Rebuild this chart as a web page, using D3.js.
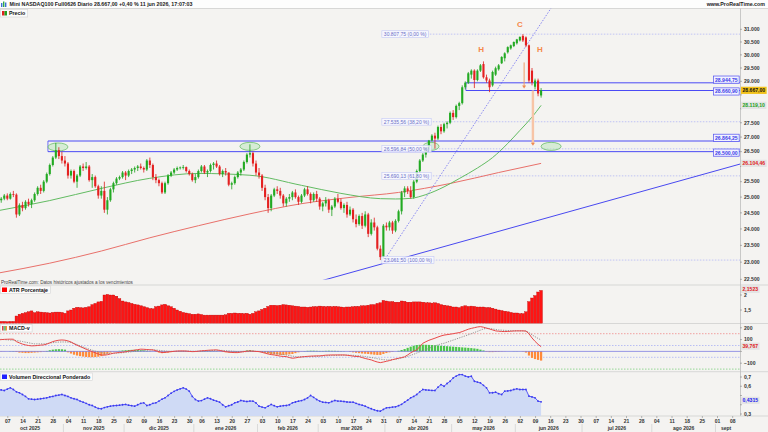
<!DOCTYPE html>
<html><head><meta charset="utf-8">
<script src="https://cdn.jsdelivr.net/npm/d3@7"></script>
<style>
html,body{margin:0;padding:0;background:#fff;}
svg{display:block;font-family:"Liberation Sans",Arial,sans-serif;}
</style></head><body><div id="chart"></div>
<script>
// --- datos ---
const firstDay = "2025-10-02";
const lastAxisDay = "2026-09-11";
const holidays = ["2026-01-01"];

// [apertura, máximo, mínimo, cierre] por sesión, desde 2025-10-02
const ohlc = [
[24850,24950,24750,24900],[24900,25000,24820,24950],[24950,25100,24900,25050],[25050,25120,24900,24950],[24950,25150,24920,25100],
[25100,25200,25000,25080],[25080,25120,24350,24450],[24450,24800,24400,24750],[24750,24850,24550,24650],[24650,24900,24600,24850],
[24850,24950,24700,24780],[24780,24950,24650,24900],[24900,25150,24850,25100],[25100,25350,25050,25300],[25300,25400,25100,25200],
[25200,25550,25150,25500],[25500,25800,25450,25750],[25750,26100,25700,26050],[26050,26350,26000,26300],[26300,26800,26250,26550],
[26550,26650,26250,26350],[26350,26500,26100,26200],[26200,26350,26000,26100],[26100,26150,25600,25700],[25700,25900,25600,25850],
[25850,25900,25450,25500],[25500,25750,25300,25700],[25700,26050,25650,26000],[26000,26100,25850,25950],[25950,26150,25900,26000],
[26000,26050,25500,25550],[25550,25750,25300,25650],[25650,25700,25300,25350],[25350,25400,24950,25050],[25050,25350,24950,25200],
[25200,25500,24500,24600],[24600,25000,24450,24900],[24900,25300,24850,25250],[25250,25500,25150,25450],[25450,25650,25400,25600],
[25600,25700,25550,25650],[25650,25850,25600,25800],[25800,25850,25550,25700],[25700,25900,25650,25850],[25850,25950,25750,25900],
[25900,26000,25800,25950],[25950,26050,25850,26000],[26000,26100,25900,25950],[25950,26000,25800,25900],[25900,26250,25850,26200],
[26200,26300,25950,26050],[26050,26100,25550,25650],[25650,25750,25450,25550],[25550,25600,25350,25450],[25450,25500,25100,25150],
[25150,25500,25100,25450],[25450,25750,25400,25700],[25700,25850,25650,25800],[25800,25950,25750,25900],[25900,26000,25850,25950],
[25950,26000,25900,25970],[25970,26050,25900,25980],[25980,26000,25800,25850],[25850,25900,25700,25750],[25750,25800,25500,25550],
[25550,25750,25450,25650],[25650,25900,25600,25850],[25850,26050,25800,26000],[26000,26050,25750,25800],[25800,25900,25650,25850],
[25850,26100,25800,26050],[26050,26150,25900,26100],[26100,26200,25950,26000],[26000,26050,25700,25750],[25750,25900,25650,25850],
[25850,25950,25700,25800],[25800,25800,25350,25400],[25400,25500,25250,25450],[25450,25700,25400,25650],[25650,25850,25600,25800],
[25800,25950,25700,25900],[25900,26200,25850,26150],[26150,26450,26100,26400],[26400,26750,26300,26450],[26450,26500,26000,26100],
[26100,26200,25700,25800],[25800,25950,25600,25700],[25700,25750,25200,25300],[25300,25400,24900,25000],[25000,25100,24500,24650],
[24650,25100,24550,25050],[25050,25300,25000,25250],[25250,25350,25100,25200],[25200,25300,24950,25050],[25050,25100,24700,24800],
[24800,25000,24700,24950],[24950,25100,24850,25000],[25000,25200,24900,25150],[25150,25250,24950,25000],[25000,25050,24750,24850],
[24850,25100,24800,25050],[25050,25300,25000,25250],[25250,25350,25050,25100],[25100,25150,24800,24900],[24900,25150,24850,25100],
[25100,25200,24850,24950],[24950,25000,24600,24700],[24700,24850,24550,24800],[24800,25000,24700,24900],[24900,24950,24500,24600],
[24600,24750,24400,24700],[24700,25000,24650,24950],[24950,25100,24800,24850],[24850,24950,24600,24650],[24650,24800,24500,24750],
[24750,24850,24350,24450],[24450,24700,24400,24600],[24600,24650,24200,24300],[24300,24450,24050,24150],[24150,24450,24100,24400],
[24400,24500,24000,24100],[24100,24550,24050,24450],[24450,24500,23750,23850],[23850,24300,23800,24200],[24200,24350,23950,24050],
[24050,24100,23350,23400],[23400,23500,23061.5,23150],[23150,24150,23100,24100],[24100,24200,23950,24050],[24050,24250,23950,24200],
[24200,24250,23850,23950],[23950,24300,23900,24250],[24250,24600,24200,24550],[24550,25200,24450,25150],[25150,25350,25000,25280],
[25280,25350,25100,25200],[25200,25350,24950,25000],[25000,25550,24950,25500],[25500,25900,25450,25850],[25850,26250,25800,26200],
[26200,26450,26150,26400],[26400,26650,26300,26600],[26600,26900,26550,26880],[26880,27100,26850,27050],[27050,27150,26600,26950],
[26950,27400,26900,27350],[27350,27450,27100,27200],[27200,27500,27150,27450],[27450,27550,27300,27500],[27500,27900,27450,27850],
[27850,27950,27600,27700],[27700,28150,27650,28100],[28100,28250,27950,28200],[28200,28850,28150,28780],[28780,29000,28700,28950],
[28950,29350,28900,29300],[29250,29450,29100,29400],[29400,29450,28750,29050],[29050,29450,29000,29400],[29400,29650,29350,29600],
[29650,29750,29100,29150],[29150,29250,28950,29030],[29030,29100,28600,28780],[28850,29400,28800,29350],[29250,29550,29200,29490],
[29450,29650,29400,29600],[29680,29950,29650,29920],[29870,30100,29750,30060],[30100,30330,30050,30300],[30250,30400,30200,30370],
[30340,30520,30300,30500],[30450,30620,30400,30600],[30560,30720,30520,30700],[30740,30807.75,30500,30560],[30680,30720,30300,30370],
[30370,30400,28950,29030],[29400,29500,28850,28950],[28800,29100,28700,29030],[29030,29100,28450,28550],[28480,28750,28400,28667]
];

// medias móviles: [sesión, precio]
const greenMA = [[0,24570],[17,24890],[34,25280],[50,25610],[66,25770],[83,25710],[100,25380],[113,25120],[126,24950],
  [131,24940],[136,24960],[141,25080],[147,25330],[152,25600],[158,25950],[163,26300],[168,26780],[172,27230],[176,27700],[179,28119.1]];
const redMA = [[0,22680],[17,22970],[34,23330],[50,23730],[66,24100],[83,24470],[100,24790],[116,24990],[132,25150],
  [149,25440],[165,25800],[179,26104.46]];

const atr = [1.11,1.12,1.12,1.11,1.12,1.12,1.30,1.36,1.39,1.41,1.44,1.47,1.41,1.44,1.43,1.42,1.41,1.40,1.42,1.43,
  1.43,1.42,1.39,1.47,1.50,1.56,1.59,1.58,1.57,1.59,1.61,1.68,1.72,1.77,1.79,2.00,2.02,2.00,2.00,1.96,
  1.88,1.80,1.77,1.75,1.72,1.69,1.67,1.64,1.61,1.58,1.55,1.54,1.61,1.63,1.67,1.69,1.64,1.61,1.56,1.50,
  1.46,1.42,1.40,1.38,1.36,1.36,1.37,1.35,1.33,1.33,1.33,1.33,1.33,1.33,1.33,1.34,1.39,1.39,1.40,1.39,
  1.39,1.38,1.39,1.36,1.39,1.44,1.47,1.52,1.56,1.62,1.66,1.66,1.65,1.66,1.68,1.67,1.66,1.64,1.63,1.62,
  1.60,1.60,1.59,1.60,1.61,1.61,1.63,1.62,1.61,1.62,1.61,1.62,1.61,1.60,1.59,1.60,1.60,1.61,1.62,1.62,
  1.64,1.64,1.66,1.68,1.68,1.72,1.74,1.82,1.80,1.78,1.78,1.76,1.76,1.80,1.79,1.76,1.76,1.77,1.77,1.77,
  1.76,1.74,1.74,1.73,1.74,1.72,1.68,1.66,1.64,1.63,1.60,1.60,1.58,1.62,1.64,1.62,1.63,1.62,1.60,1.60,
  1.60,1.58,1.58,1.56,1.53,1.50,1.48,1.46,1.44,1.42,1.40,1.40,1.38,1.38,1.44,1.78,1.90,1.98,2.10,2.1523];

const macd = [97,100,102,103,104,103,83,72,62,55,50,47,48,50,53,55,62,72,83,90,
  95,97,95,89,80,65,52,41,30,18,8,-2,-12,-22,-30,-32,-28,-22,-15,-12,
  -9,-7,-3,2,7,11,15,19,18,16,14,13,6,-2,-10,-8,-5,-2,1,3,
  4,4,3,0,-2,-1,2,5,7,9,11,12,13,8,3,-2,-6,-9,-10,-10,
  -6,-2,2,4,2,0,-2,-8,-15,-22,-27,-30,-35,-40,-43,-44,-52,-58,-55,-50,
  -47,-44,-42,-40,-39,-38,-38,-35,-32,-31,-30,-30,-30,-30,-30,-32,-36,-40,-43,-44,
  -52,-60,-66,-72,-82,-90,-95,-90,-84,-78,-70,-64,-58,-52,-46,-30,-12,2,13,40,
  69,82,94,103,112,122,131,138,142,146,150,155,159,168,178,188,195,201,207,210,
  205,197,190,182,174,171,169,168,169,171,173,174,174,174,172,150,114,85,60,39.767];

const signal = [103,102,100,98,96,94,92,88,84,78,73,68,64,64,64,64,66,70,74,77,
  79,80,80,79,75,69,58,48,38,28,19,10,3,-5,-10,-15,-17,-17,-16,-15,
  -13,-11,-9,-6,-3,0,3,6,9,11,12,13,12,9,6,3,1,0,0,1,
  2,2,2,2,1,1,1,2,3,5,6,8,9,9,8,6,4,2,0,-2,
  -3,-3,-2,-1,0,0,0,-2,-5,-8,-12,-15,-19,-23,-27,-31,-35,-40,-43,-45,
  -46,-46,-45,-44,-43,-42,-41,-40,-38,-36,-35,-34,-33,-32,-32,-32,-32,-33,-35,-37,
  -40,-44,-48,-52,-56,-62,-66,-70,-72,-72,-70,-67,-62,-56,-50,-42,-33,-24,-14,-4,
  6,16,26,36,46,56,63,69,78,87,96,105,114,123,132,141,150,160,170,180,
  190,197,194,190,186,182,180,178,177,176,175,175,174,174,174,160,140,125,110,97];

const hist = [-3,-2,-1,0,2,3,-5,-10,-12,-14,-14,-12,-10,-8,-6,-3,4,10,15,18,
  19,18,15,-8,-18,-28,-35,-40,-44,-47,-49,-49,-48,-45,-40,-30,-20,-10,-3,2,
  5,8,10,12,13,13,12,10,8,5,2,0,-5,-10,-15,-13,-10,-6,-2,1,
  2,2,1,-1,-3,-2,1,3,4,5,5,4,3,-2,-5,-8,-10,-11,-10,-8,
  -3,4,8,10,6,2,-2,-6,-12,-18,-22,-25,-28,-30,-30,-28,-25,-22,-15,-8,
  -2,3,5,6,6,5,4,4,5,6,5,5,4,3,2,0,-4,-8,-12,-15,
  -18,-20,-22,-25,-28,-30,-30,-22,-14,-8,-4,0,5,12,20,30,40,48,54,56,
  57,56,55,54,52,50,48,46,44,42,40,38,36,34,32,30,28,25,22,15,
  8,-4,-6,-6,-5,-4,-2,-1,0,0,1,1,0,-2,-10,-35,-55,-65,-72,-78];

const vdp = [.565,.56,.554,.57,.583,.565,.54,.529,.511,.49,.464,.46,.457,.46,.465,.47,.475,.485,.49,.50,
  .505,.511,.50,.49,.475,.465,.457,.44,.428,.415,.40,.392,.375,.36,.357,.37,.378,.385,.39,.392,
  .395,.40,.403,.395,.39,.385,.40,.415,.421,.392,.40,.415,.421,.44,.46,.475,.50,.525,.545,.56,
  .572,.583,.57,.547,.49,.457,.44,.445,.46,.475,.465,.45,.44,.428,.40,.378,.39,.40,.421,.43,
  .446,.44,.435,.44,.439,.42,.385,.375,.367,.385,.403,.39,.378,.385,.39,.392,.40,.421,.43,.439,
  .445,.457,.475,.50,.48,.457,.44,.428,.425,.421,.435,.446,.44,.439,.435,.43,.428,.428,.415,.403,
  .395,.385,.37,.357,.345,.335,.331,.35,.367,.37,.375,.378,.39,.405,.428,.45,.475,.49,.511,.54,
  .565,.56,.558,.555,.554,.59,.618,.60,.63,.654,.69,.71,.726,.726,.71,.701,.708,.654,.645,.636,
  .61,.583,.529,.53,.536,.52,.511,.547,.55,.554,.565,.572,.565,.565,.565,.493,.485,.475,.439,.4315];

const tickDays = ["2025-10-07","2025-10-14","2025-10-21","2025-10-28","2025-11-04","2025-11-11","2025-11-18","2025-11-25",
  "2025-12-02","2025-12-09","2025-12-16","2025-12-23","2025-12-30","2026-01-06","2026-01-13","2026-01-20","2026-01-27",
  "2026-02-03","2026-02-10","2026-02-17","2026-02-24","2026-03-03","2026-03-10","2026-03-17","2026-03-24","2026-03-31",
  "2026-04-07","2026-04-14","2026-04-21","2026-04-28","2026-05-05","2026-05-12","2026-05-19","2026-05-26","2026-06-02",
  "2026-06-09","2026-06-16","2026-06-23","2026-06-30","2026-07-07","2026-07-14","2026-07-21","2026-07-28","2026-08-04",
  "2026-08-11","2026-08-18","2026-08-25","2026-09-01","2026-09-08"];
const monthKeys = ["2025-10","2025-11","2025-12","2026-01","2026-02","2026-03","2026-04","2026-05","2026-06","2026-07","2026-08","2026-09"];
const monthNames = ["oct 2025","nov 2025","dic 2025","ene 2026","feb 2026","mar 2026","abr 2026","may 2026","jun 2026","jul 2026","ago 2026","sept"];

const priceTicks = d3.range(22500, 31001, 500);
const atrTicks = [2, 1.5];
const macdTicks = [200, 100, 0, -100];
const vdpTicks = [0.7, 0.6, 0.5, 0.4, 0.3];

const fibLevels = [30807.75, 27535.56, 26596.84, 25690.13, 23061.50];
const fibPct = ["0,00 %", "38,20 %", "50,00 %", "61,80 %", "100,00 %"];
const zoneLevels = [28944.75, 28660.90, 26864.25, 26500.00];
const zoneStart = [154.2, 154.2, 16.4, 16.4];
const trendSolid = [[119.3, 22770], [228.1, 25620]];
const trendDotted = [[126.5, 22950], [155.6, 27230]];
const ellipses = [[19.7, 26660, 10], [83, 26680, 10], [142.7, 26680, 8], [182.3, 26680, 10]];
const patternText = ["H", "C", "H"];
const patternIdx = [159.2, 172, 178.6];
const patternPrice = [30100, 31100, 30100];
const arrows = [[173.4, 29710, 28730, 1, "#f09a66"], [176.3, 28660, 26700, 2.4, "#f7c4a6"]];

// --- utilidades ---
const es = d3.formatLocale({decimal: ",", thousands: ".", grouping: [3], currency: ["", "€"]});
const f0 = es.format(",.0f"), f2 = es.format(",.2f");
const fmtDay = d3.timeFormat("%Y-%m-%d");

const calendar = d3.timeDay.range(new Date(2025, 9, 2), new Date(2026, 8, 12))
  .filter(d => d.getDay() > 0 && d.getDay() < 6)
  .map(fmtDay)
  .filter(s => !holidays.includes(s));
const idx = new Map(calendar.map((d, i) => [d, i]));

const W = 768, H = 432, RIGHT = 740;
const svg = d3.select("#chart").append("svg").attr("width", W).attr("height", H).attr("viewBox", `0 0 ${W} ${H}`);
svg.append("rect").attr("width", W).attr("height", H).attr("fill", "#f4f3f1");
svg.append("rect").attr("width", W).attr("height", 8).attr("fill", "#fdfdfd");

const x = d3.scaleLinear().domain([0, 179]).range([-1.8, 541.1]);
const y = d3.scaleLog().domain([22500, 31000]).range([279.3, 29.3]);
const yA = d3.scaleLinear().domain([1.5, 2]).range([310, 295]);
const yM = d3.scaleLinear().domain([-100, 200]).range([363.2, 327.8]);
const yV = d3.scaleLinear().domain([0.3, 0.7]).range([414, 377]);

const panels = {main: [8.5, 279.5], atr: [285, 323.5], macd: [323.5, 371.7], vdp: [371.7, 416]};
const defs = svg.append("defs");
Object.entries(panels).forEach(([k, [t, b]]) => {
  defs.append("clipPath").attr("id", "clip-" + k).append("rect").attr("x", 0).attr("y", t).attr("width", RIGHT).attr("height", b - t);
});

// separadores
[8.5, 285, 323.5, 371.7, 416].forEach(v => svg.append("line").attr("x1", 0).attr("x2", W).attr("y1", v).attr("y2", v)
  .attr("stroke", "#cfcfcf").attr("stroke-width", 0.8));
svg.append("line").attr("x1", RIGHT + 0.5).attr("x2", RIGHT + 0.5).attr("y1", 8.5).attr("y2", 416).attr("stroke", "#bdbdbd").attr("stroke-width", 0.8);

// cabecera
const hdr = svg.append("g");
[["#3b6fd8", 1, 3], ["#33aa44", 3, 1.5], ["#3b6fd8", 5, 2.5]].forEach(([c, xx, yy]) =>
  hdr.append("rect").attr("x", xx).attr("y", yy).attr("width", 1.4).attr("height", 7 - yy).attr("fill", c));
hdr.append("text").attr("x", 9.5).attr("y", 6).attr("font-size", 5.3).attr("font-weight", "bold").attr("fill", "#222")
  .text("Mini NASDAQ100 Full0626 Diario 28.667,00 +0,40 % 11 jun 2026, 17:07:03");
hdr.append("text").attr("x", 765).attr("y", 6).attr("text-anchor", "end").attr("font-size", 5.3).attr("font-weight", "bold").attr("fill", "#222")
  .text("www.ProRealTime.com");

function legend(yy, label, colors) {
  const g = svg.append("g");
  const t = g.append("text").attr("x", 9).attr("y", yy + 5.6).attr("font-size", 5.3).attr("font-weight", "bold").attr("fill", "#111").text(label);
  const w = t.node().getComputedTextLength();
  g.insert("rect", "text").attr("x", 0.5).attr("y", yy).attr("width", w + 11).attr("height", 7.5).attr("fill", "#fbfbfb").attr("stroke", "#d4d4d4").attr("stroke-width", 0.6);
  colors.forEach((c, k) => g.append("rect").attr("x", 2 + k * 5 / colors.length).attr("y", yy + 1.5).attr("width", 5 / colors.length).attr("height", 4.5).attr("fill", c));
}
legend(9.5, "Precio", ["#e02020", "#20a020"]);
legend(286, "ATR Porcentaje", ["#ff0000"]);
legend(324.5, "MACD-v", ["#e04040", "#888888", "#33bb33", "#ff8833"]);
legend(373, "Volumen Direccional Ponderado", ["#2020ff"]);
svg.append("text").attr("x", 1).attr("y", 283.6).attr("font-size", 4.6).attr("fill", "#444")
  .text("ProRealTime.com: Datos históricos ajustados a los vencimientos");

// etiquetas de valor (posiciones en el eje derecho)
const tags = [];
function tag(yy, text, fg, bg, x0, stroke) {
  const g = svg.append("g").attr("class", "tag");
  const t = g.append("text").attr("x", x0 + 1.5).attr("y", yy + 1.9).attr("font-size", 5.1).attr("font-weight", "bold").attr("fill", fg).text(text);
  const w = t.node().getComputedTextLength();
  g.insert("rect", "text").attr("x", x0).attr("y", yy - 3.6).attr("width", w + 3).attr("height", 7.2).attr("fill", bg)
    .attr("stroke", stroke || "none").attr("stroke-width", 0.7);
  if (x0 > RIGHT) tags.push(yy);
}

// eje derecho (las etiquetas tapadas por una etiqueta de valor no se escriben)
function rightAxis(scale, ticks, fmt) {
  const g = svg.insert("g", ".tag");
  ticks.forEach(v => {
    g.append("line").attr("x1", RIGHT).attr("x2", RIGHT + 2).attr("y1", scale(v)).attr("y2", scale(v)).attr("stroke", "#888").attr("stroke-width", 0.6);
    if (tags.some(t => Math.abs(t - scale(v)) < 5.5)) return;
    g.append("text").attr("x", RIGHT + 4).attr("y", scale(v) + 1.8).attr("font-size", 5.1).attr("font-weight", "bold").attr("fill", "#333").text(fmt(v));
  });
}

// --- panel principal ---
const main = svg.append("g").attr("clip-path", "url(#clip-main)");

// fibonacci
fibLevels.forEach((lv, k) => {
  main.append("line").attr("x1", x(126.5)).attr("x2", RIGHT).attr("y1", y(lv)).attr("y2", y(lv))
    .attr("stroke", "#b3b7f5").attr("stroke-width", 0.8).attr("stroke-dasharray", "1.5,1.5");
});

// medias
const maLine = d3.line().x(d => x(d[0])).y(d => y(d[1])).curve(d3.curveMonotoneX);
main.append("path").attr("d", maLine(redMA)).attr("fill", "none").attr("stroke", "#e8706a").attr("stroke-width", 1);
main.append("path").attr("d", maLine(greenMA)).attr("fill", "none").attr("stroke", "#62bb62").attr("stroke-width", 1);

// líneas de tendencia
function extLine(a, b, x1, x2) {
  const p = [x(a[0]), y(a[1])], q = [x(b[0]), y(b[1])];
  const m = (q[1] - p[1]) / (q[0] - p[0]);
  return [[x1, p[1] + m * (x1 - p[0])], [x2, p[1] + m * (x2 - p[0])]];
}
const s = extLine(trendSolid[0], trendSolid[1], 290, RIGHT);
main.append("line").attr("x1", s[0][0]).attr("y1", s[0][1]).attr("x2", s[1][0]).attr("y2", s[1][1]).attr("stroke", "#4848f0").attr("stroke-width", 1);
const dt = extLine(trendDotted[0], trendDotted[1], x(trendDotted[0][0]), 560);
main.append("line").attr("x1", dt[0][0]).attr("y1", dt[0][1]).attr("x2", dt[1][0]).attr("y2", dt[1][1])
  .attr("stroke", "#7b7bf0").attr("stroke-width", 0.9).attr("stroke-dasharray", "1.5,1.5");

// zonas horizontales
zoneLevels.forEach((lv, k) => {
  main.append("line").attr("x1", x(zoneStart[k])).attr("x2", RIGHT).attr("y1", y(lv)).attr("y2", y(lv)).attr("stroke", "#4a4af5").attr("stroke-width", 1);
});
[[0, 1], [2, 3]].forEach(([a, b]) => main.append("line").attr("x1", x(zoneStart[a])).attr("x2", x(zoneStart[a]))
  .attr("y1", y(zoneLevels[a])).attr("y2", y(zoneLevels[b])).attr("stroke", "#4a4af5").attr("stroke-width", 0.8));

// elipses
ellipses.forEach(([i, p, r]) => main.append("ellipse").attr("cx", x(i)).attr("cy", y(p)).attr("rx", r).attr("ry", 4)
  .attr("fill", "rgba(190,230,190,0.55)").attr("stroke", "#6cbf6c").attr("stroke-width", 0.8));

// flechas
arrows.forEach(([i, p1, p2, w, c]) => {
  main.append("line").attr("x1", x(i)).attr("x2", x(i)).attr("y1", y(p1)).attr("y2", y(p2) - 2).attr("stroke", c).attr("stroke-width", w);
  main.append("path").attr("d", `M${x(i) - 2},${y(p2) - 3}L${x(i) + 2},${y(p2) - 3}L${x(i)},${y(p2)}Z`).attr("fill", "#f08a50");
});

// velas
const candles = main.append("g");
candles.selectAll("line").data(ohlc).join("line")
  .attr("x1", (d, i) => x(i)).attr("x2", (d, i) => x(i))
  .attr("y1", d => y(d[1])).attr("y2", d => y(d[2]))
  .attr("stroke", d => d[3] >= d[0] ? "#1e9e1e" : "#dc1c1c").attr("stroke-width", 0.8);
candles.selectAll("rect").data(ohlc).join("rect")
  .attr("x", (d, i) => x(i) - 1.05).attr("width", 2.1)
  .attr("y", d => y(Math.max(d[0], d[3])))
  .attr("height", d => Math.max(0.8, Math.abs(y(d[0]) - y(d[3]))))
  .attr("fill", d => d[3] >= d[0] ? "#22aa22" : "#e42020");

// etiquetas fibonacci
fibLevels.forEach((lv, k) => {
  const g = main.append("g");
  const t = g.append("text").attr("x", x(126.5) + 2).attr("y", y(lv) + 1.8).attr("font-size", 5).attr("fill", "#6a70c8")
    .text(f2(lv) + " (" + fibPct[k] + ")");
  const w = t.node().getComputedTextLength();
  g.insert("rect", "text").attr("x", x(126.5)).attr("y", y(lv) - 3.4).attr("width", w + 4).attr("height", 6.8)
    .attr("fill", "rgba(248,248,255,0.85)").attr("stroke", "#c4c8f5").attr("stroke-width", 0.6);
});

// H C H
patternText.forEach((t, k) => main.append("text").attr("x", x(patternIdx[k])).attr("y", y(patternPrice[k]))
  .attr("text-anchor", "middle").attr("font-size", 8).attr("font-weight", "bold").attr("fill", "#f5884a").text(t));

// etiquetas a la derecha
zoneLevels.forEach(lv => tag(y(lv) - 3.2 * (lv === 28944.75 || lv === 26864.25 ? 1 : -0.3), f2(lv), "#3a3ae8", "#f2f2ff", 713.5, "#5050f0"));
tag(y(28667), f2(28667), "#111", "#f2c21a", RIGHT + 1);
tag(y(28119.1), f2(28119.1), "#22a022", "#e4e4e4", RIGHT + 1);
tag(y(26104.46), f2(26104.46), "#e02020", "#e4e4e4", RIGHT + 1);

// --- ATR ---
const gA = svg.append("g").attr("clip-path", "url(#clip-atr)");
gA.selectAll("rect").data(atr).join("rect")
  .attr("x", (d, i) => x(i) - 1.35).attr("width", 2.7)
  .attr("y", d => yA(d)).attr("height", d => 323.5 - yA(d))
  .attr("fill", "#ff1414").attr("stroke", "#b80000").attr("stroke-width", 0.35);
tag(yA(2.1523) - 1, "2,1523", "#e02020", "#e4e4e4", RIGHT + 1);

// --- MACD-v ---
const gM = svg.append("g").attr("clip-path", "url(#clip-macd)");
[[150, "#f08a8a"], [50, "#a9b0f5"], [-50, "#a9b0f5"], [-150, "#7ccf7c"]].forEach(([v, c]) =>
  gM.append("line").attr("x1", 0).attr("x2", RIGHT).attr("y1", yM(v)).attr("y2", yM(v)).attr("stroke", c).attr("stroke-width", 0.8).attr("stroke-dasharray", "1.5,1.5"));
gM.selectAll("rect").data(hist).join("rect")
  .attr("x", (d, i) => x(i) - 1.1).attr("width", 2.2)
  .attr("y", d => Math.min(yM(0), yM(d))).attr("height", d => Math.abs(yM(d) - yM(0)))
  .attr("fill", d => d >= 0 ? "#49c649" : "#ff8a3a");
gM.append("line").attr("x1", 0).attr("x2", RIGHT).attr("y1", yM(0)).attr("y2", yM(0)).attr("stroke", "#7070e0").attr("stroke-width", 0.7);
const mLine = d3.line().x((d, i) => x(i)).y(d => yM(d));
gM.append("path").attr("d", mLine(signal)).attr("fill", "none").attr("stroke", "#8a8a8a").attr("stroke-width", 0.9).attr("stroke-dasharray", "1.2,1.2");
gM.append("path").attr("d", mLine(macd)).attr("fill", "none").attr("stroke", "#e84848").attr("stroke-width", 1);
tag(yM(39.767) - 0.5, "39,767", "#e02020", "#e4e4e4", RIGHT + 1);

// --- Volumen direccional ---
const gV = svg.append("g").attr("clip-path", "url(#clip-vdp)");
gV.append("path").attr("d", d3.area().x((d, i) => x(i)).y0(416).y1(d => yV(d))(vdp)).attr("fill", "#cfdaf5");
gV.append("path").attr("d", d3.line().x((d, i) => x(i)).y(d => yV(d))(vdp)).attr("fill", "none").attr("stroke", "#4a4af5").attr("stroke-width", 0.9);
gV.selectAll("circle").data(vdp).join("circle").attr("cx", (d, i) => x(i)).attr("cy", d => yV(d)).attr("r", 0.9).attr("fill", "#3a3af0");
tag(yV(0.4315) - 1.5, "0,4315", "#2020f0", "#e4e4e4", RIGHT + 1);

rightAxis(y, priceTicks, f0);
rightAxis(yA, atrTicks, v => es.format(".1~f")(v));
rightAxis(yM, macdTicks, f0);
rightAxis(yV, vdpTicks, v => es.format(".1f")(v));

// --- eje de fechas ---
const xa = svg.append("g").attr("transform", "translate(0,416)")
  .call(d3.axisBottom(x).tickValues(tickDays.map(d => idx.get(d))).tickSize(2).tickFormat(i => calendar[i].slice(8)));
xa.select(".domain").remove();
xa.selectAll("line").attr("stroke", "#888").attr("stroke-width", 0.6);
xa.selectAll("text").attr("font-size", 5).attr("font-weight", "bold").attr("fill", "#333").attr("dy", 0).attr("y", 6.5).style("font-family", "Liberation Sans, Arial");

monthKeys.forEach((mk, k) => {
  const days = calendar.map((d, i) => [d, i]).filter(([d, i]) => d.startsWith(mk) && x(i) < RIGHT - 2);
  if (!days.length) return;
  const first = days[0][1];
  const cx = x(d3.mean(days, d => d[1]));
  if (k > 0) svg.append("line").attr("x1", x(first - 0.5)).attr("x2", x(first - 0.5)).attr("y1", 424).attr("y2", 432).attr("stroke", "#c8c8c8").attr("stroke-width", 0.6);
  svg.append("text").attr("x", Math.min(cx, 735)).attr("y", 429.5).attr("text-anchor", "middle").attr("font-size", 5)
    .attr("font-weight", "bold").attr("fill", "#333").text(monthNames[k]);
});
</script></body></html>
